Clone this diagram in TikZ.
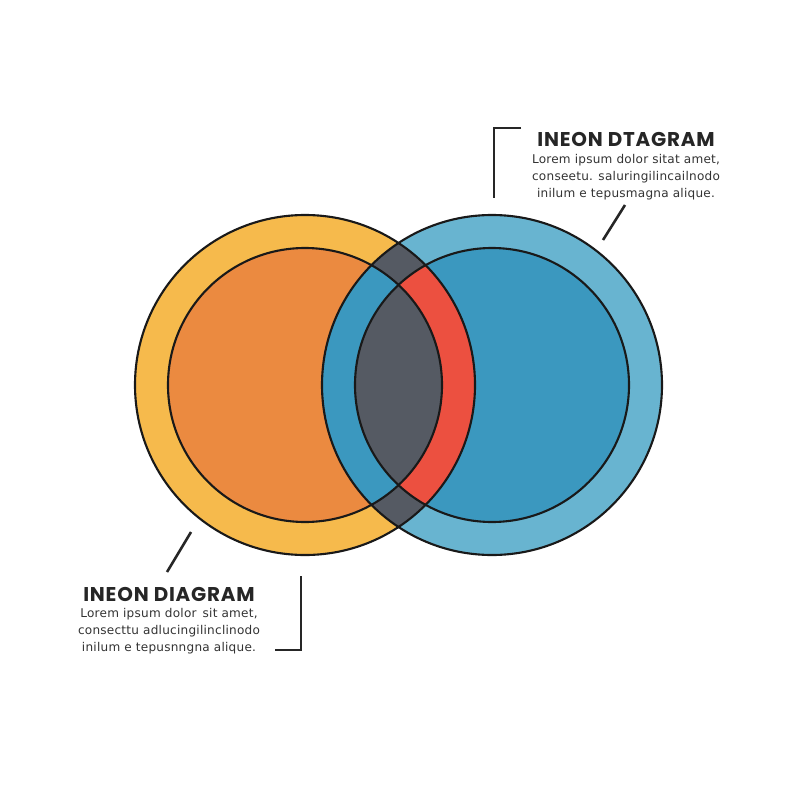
\documentclass[tikz,border=0pt]{standalone}
\usepackage{fontspec}
\setmainfont{DejaVu Sans}
\newfontfamily\headfont[LetterSpace=4]{Poppins}
\newfontfamily\blurbfont[LetterSpace=2]{DejaVu Sans}
\usetikzlibrary{positioning}
\definecolor{ringyellow}{HTML}{F6BA4C}
\definecolor{coreorange}{HTML}{EB8A40}
\definecolor{ringblue}{HTML}{68B4D0}
\definecolor{coreblue}{HTML}{3B98BF}
\definecolor{lensgray}{HTML}{555A63}
\definecolor{bandred}{HTML}{EC5040}

\begin{document}
\begin{tikzpicture}[
  x=0.3mm, y=-0.3mm,
  outline/.style={draw=black!90, line width=1.8pt},
  pointer/.style={draw=black!85, line width=2.2pt},
  head/.style={font=\headfont\bfseries\fontsize{17}{20}\selectfont, text=black!85, inner sep=0pt},
  blurb/.style={font=\blurbfont\fontsize{10.3}{14.2}\selectfont, align=center, text=black!80, inner sep=0pt},
]
\fill[white] (0,0) rectangle (800,800);

\coordinate (lc) at (305,385);
\coordinate (rc) at (492,385);

% base discs
\fill[ringyellow] (lc) circle[radius=170];
\fill[coreorange] (lc) circle[radius=137];
\fill[ringblue] (rc) circle[radius=170];
\fill[coreblue] (rc) circle[radius=137];

% overlap pieces
\begin{scope}
  \clip (lc) circle[radius=170];
  \fill[lensgray] (rc) circle[radius=170];
  \fill[bandred] (rc) circle[radius=137];
\end{scope}
\begin{scope}
  \clip (lc) circle[radius=137];
  \fill[coreblue] (rc) circle[radius=170];
  \fill[lensgray] (rc) circle[radius=137];
\end{scope}

% outlines
\draw[outline] (lc) circle[radius=170];
\draw[outline] (lc) circle[radius=137];
\draw[outline] (rc) circle[radius=170];
\draw[outline] (rc) circle[radius=137];

% top right label
\node[head] (thead) at (626,139) {INEON DTAGRAM};
\node[blurb, below=7pt of thead] (tblurb) {Lorem ipsum dolor sitat amet,\\conseetu. saluringilincailnodo\\inilum e tepusmagna alique.};
\coordinate (tb1) at (521,128);
\coordinate (tb2) at (494,128);
\coordinate (tb3) at (494,198);
\draw[pointer] (tb1) -- (tb2) -- (tb3);
\coordinate (tt1) at (625,205);
\coordinate (tt2) at (603,240);
\draw[pointer] (tt1) -- (tt2);

% bottom left label
\node[head] (bhead) at (169,594) {INEON DIAGRAM};
\node[blurb, below=6pt of bhead] (bblurb) {Lorem ipsum dolor\enspace sit amet,\\consecttu adlucingilinclinodo\\inilum e tepusnngna alique.};
\coordinate (bb1) at (301,576);
\coordinate (bb2) at (301,650);
\coordinate (bb3) at (275,650);
\draw[pointer] (bb1) -- (bb2) -- (bb3);
\coordinate (bt1) at (191,532);
\coordinate (bt2) at (167,572);
\draw[pointer] (bt1) -- (bt2);
\end{tikzpicture}
\end{document}
